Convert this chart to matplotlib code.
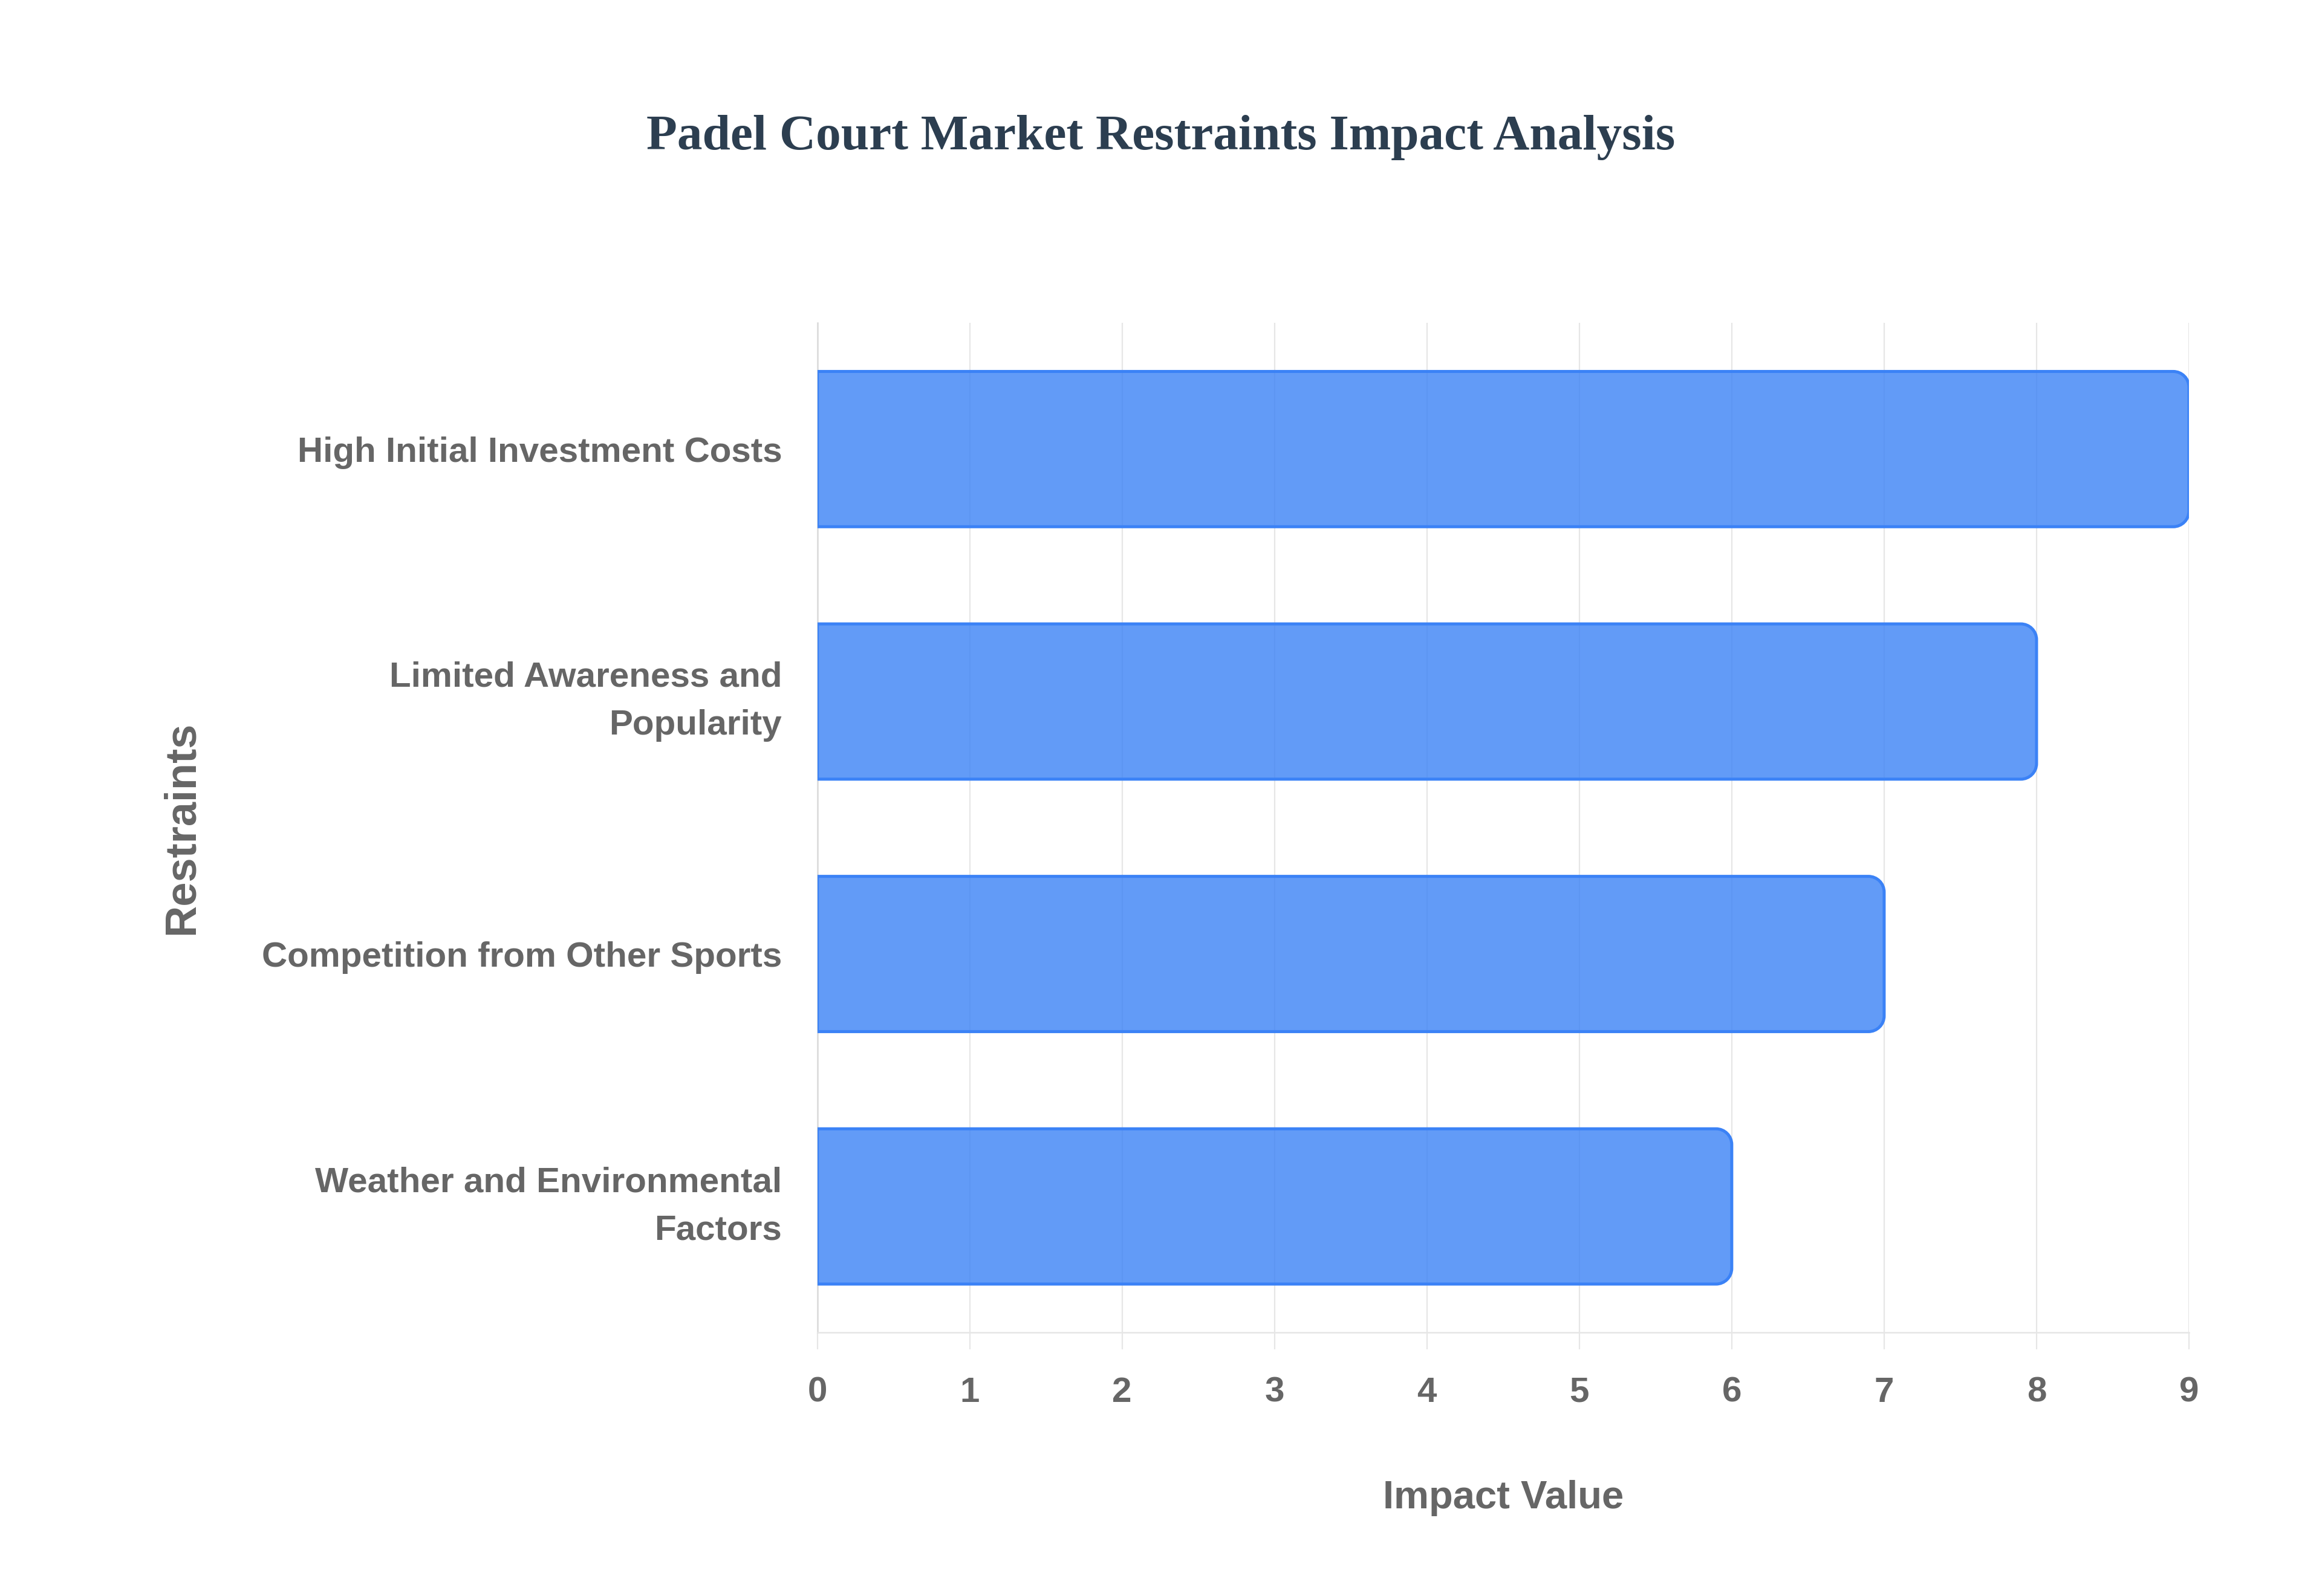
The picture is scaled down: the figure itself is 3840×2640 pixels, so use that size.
import matplotlib
matplotlib.use("Agg")
import matplotlib.pyplot as plt
from matplotlib.path import Path
from matplotlib.patches import PathPatch
from matplotlib.transforms import IdentityTransform

# ---- data ----
categories = [
    "High Initial Investment Costs",
    "Limited Awareness and\nPopularity",
    "Competition from Other Sports",
    "Weather and Environmental\nFactors",
]
impact_values = [9, 8, 7, 6]
x_ticks = [0, 1, 2, 3, 4, 5, 6, 7, 8, 9]
title_text = "Padel Court Market Restraints Impact Analysis"
x_label = "Impact Value"
y_label = "Restraints"

# ---- styling ----
DPI = 200
FILL = (59 / 255, 130 / 255, 246 / 255, 0.8)
EDGE = "#3B82F6"
GRID = "#E6E6E6"
TXT = "#666666"
SANS = ["Liberation Sans", "DejaVu Sans"]

fig = plt.figure(figsize=(19.2, 13.2), dpi=DPI)
fig.patch.set_facecolor("white")
ax = fig.add_axes([0.352, 0.165, 0.9427 - 0.352, 0.7977 - 0.165])

ypos = list(range(len(categories)))
bars = ax.barh(ypos, impact_values, height=0.615, color=FILL)
ax.set_xlim(0, 9.0)
ax.set_ylim(len(categories) - 0.5, -0.5)

ax.set_xticks(x_ticks)
ax.set_xticklabels([str(t) for t in x_ticks], family=SANS, fontweight="bold",
                   fontsize=21, color=TXT)
ax.set_yticks(ypos)
ax.set_yticklabels(categories, family=SANS, fontweight="bold", fontsize=21,
                   color=TXT, linespacing=1.6)
for lab in ax.get_yticklabels():
    if "\n" in lab.get_text():
        lab.set_va("center")
ax.tick_params(axis="x", length=10, width=0.8, color=GRID, pad=16)
ax.tick_params(axis="y", length=0, pad=21)

ax.grid(axis="x", color=GRID, linewidth=0.8, zorder=0)
ax.set_axisbelow(True)
for s in ["top", "right"]:
    ax.spines[s].set_visible(False)
ax.spines["left"].set_color("#D9D9D9")
ax.spines["left"].set_linewidth(0.9)
ax.spines["bottom"].set_color(GRID)
ax.spines["bottom"].set_linewidth(0.9)

ax.set_xlabel(x_label, family=SANS, fontweight="bold", fontsize=23.5, color=TXT)
ax.xaxis.label.set_va("center")
ax.xaxis.set_label_coords(0.5, -0.164)
ax.set_ylabel(y_label, family=SANS, fontweight="bold", fontsize=26, color=TXT)
ax.yaxis.label.set_va("center")
ax.yaxis.set_label_coords(-0.4634, 0.5)

fig.text(0.5, 0.9137, title_text, ha="center", va="center",
         family=["Liberation Serif", "DejaVu Serif"], fontweight="bold",
         fontsize=30, color="#2C3E50")

# ---- rounded right corners for bars ----
K = 0.5523
def rounded_right(x0, y0, x1, y1, r):
    r = min(r, (y1 - y0) / 2, (x1 - x0))
    verts = [
        (x0, y0), (x1 - r, y0),
        (x1 - r + K * r, y0), (x1, y0 + r - K * r), (x1, y0 + r),
        (x1, y1 - r),
        (x1, y1 - r + K * r), (x1 - r + K * r, y1), (x1 - r, y1),
        (x0, y1), (x0, y0),
    ]
    codes = [Path.MOVETO, Path.LINETO,
             Path.CURVE4, Path.CURVE4, Path.CURVE4,
             Path.LINETO,
             Path.CURVE4, Path.CURVE4, Path.CURVE4,
             Path.LINETO, Path.CLOSEPOLY]
    return Path(verts, codes)

for rect in bars.patches:
    x, y, w, h = rect.get_x(), rect.get_y(), rect.get_width(), rect.get_height()
    (px0, py0) = ax.transData.transform((x, y + h))
    (px1, py1) = ax.transData.transform((x + w, y))
    lo, hi = min(py0, py1), max(py0, py1)
    rect.set_visible(False)
    pp = PathPatch(rounded_right(px0, lo, px1, hi, 26), facecolor=FILL,
                   edgecolor=EDGE, linewidth=1.8, transform=IdentityTransform(),
                   zorder=3)
    ax.add_patch(pp)

fig.savefig("out.png", dpi=DPI, facecolor="white")
